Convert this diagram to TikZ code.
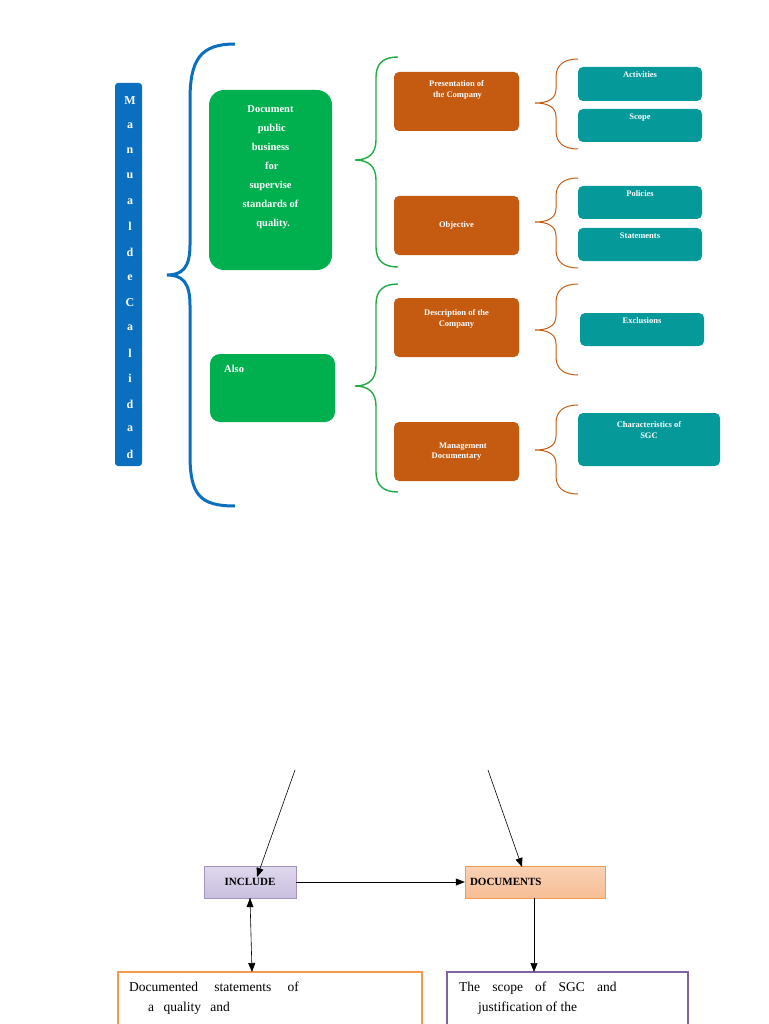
\documentclass[tikz,border=0pt]{standalone}
\usepackage{fontspec}
\setmainfont{Liberation Serif}
\usetikzlibrary{arrows.meta}
\definecolor{bl}{HTML}{0B6FC0}
\definecolor{gr}{HTML}{00B04F}
\definecolor{og}{HTML}{C55A11}
\definecolor{tl}{HTML}{05999A}
\definecolor{lgr}{HTML}{22AA44}
\definecolor{lav}{HTML}{C9BFE0}
\definecolor{pch}{HTML}{F6BE95}
\definecolor{ob}{HTML}{F39A4E}
\definecolor{pb}{HTML}{8064A2}
\tikzset{
 box/.style={rounded corners=5pt,text=white,font=\bfseries\fontsize{8.5}{10.5}\selectfont,align=center,inner sep=0pt},
 ar/.style={-{Triangle[length=9pt,width=7pt]},black,line width=0.6pt}
}
\begin{document}
\begin{tikzpicture}[x=1pt,y=-1pt]
\useasboundingbox (0,0) rectangle (768,1024);
\clip (0,0) rectangle (768,1024);
% blue vertical bar
\node[fill=bl,rounded corners=3pt,minimum width=27pt,minimum height=383pt,inner sep=0pt] (bar) at (128.5,274.5) {};
\foreach \l [count=\i] in {M,a,n,u,a,l,d,e,C,a,l,i,d,a,d}
  \node[text=white,font=\bfseries\fontsize{12}{12}\selectfont,inner sep=0pt] (l\i) at (130,75+\i*25.3) {\l};
% braces
\draw[bl,line width=3pt] (235,44) .. controls (200,44) and (190,60) .. (190,100) -- (190,245) .. controls (190,268) and (182,275) .. (167,275) .. controls (182,275) and (190,282) .. (190,305) -- (190,455) .. controls (190,495) and (200,506) .. (235,506);
\foreach \t/\m/\b in {57/160/267,284/386/492}
 \draw[lgr,line width=1.4pt] (398,\t) .. controls (384,\t) and (376,\t+6) .. (376,\t+20) -- (376,\m-20) .. controls (376,\m-6) and (368,\m) .. (355,\m) .. controls (368,\m) and (376,\m+6) .. (376,\m+20) -- (376,\b-20) .. controls (376,\b-6) and (384,\b) .. (398,\b);
\foreach \t/\m/\b in {59/103/149,178/222/268,284/330/375,405/450/494}
 \draw[og,line width=1pt] (578,\t) .. controls (564,\t) and (556,\t+6) .. (556,\t+18) -- (556,\m-14) .. controls (556,\m-4) and (548,\m) .. (535,\m) .. controls (548,\m) and (556,\m+4) .. (556,\m+14) -- (556,\b-18) .. controls (556,\b-6) and (564,\b) .. (578,\b);
% green boxes
\node[box,fill=gr,rounded corners=15pt,minimum width=123pt,minimum height=180pt,font=\bfseries\fontsize{10.5}{19}\selectfont] (g1) at (270.5,180) {\raisebox{0pt}{}Document\\ \ public\\ business\hspace{1.2em}\\ \ for\\ supervise\\ standards of\\ \ \ quality.\\[8pt]};
\node[box,fill=gr,rounded corners=10pt,minimum width=125pt,minimum height=68pt] (g2) at (272.5,388) {};
\node[text=white,font=\bfseries\fontsize{10.5}{12}\selectfont,anchor=west,inner sep=0pt] (also) at (224,369) {Also};
% orange boxes
\node[box,fill=og,minimum width=125pt,minimum height=59pt] (o1) at (456.5,101.5) {Presentation of\hspace{1.5em}\\ \ the Company\\[14pt]};
\node[box,fill=og,minimum width=125pt,minimum height=59pt] (o2) at (456.5,225.5) {Objective};
\node[box,fill=og,minimum width=125pt,minimum height=59pt] (o3) at (456.5,327.5) {Description of the\\Company\\[8pt]};
\node[box,fill=og,minimum width=125pt,minimum height=59pt] (o4) at (456.5,451.5) {\hspace{1.5em}Management\\Documentary};
% teal boxes
\node[box,fill=tl,minimum width=124pt,minimum height=34pt] (t1) at (640,84) {Activities\\[8pt]};
\node[box,fill=tl,minimum width=124pt,minimum height=33pt] (t2) at (640,125.5) {Scope\\[8pt]};
\node[box,fill=tl,minimum width=124pt,minimum height=33pt] (t3) at (640,202.5) {Policies\\[8pt]};
\node[box,fill=tl,minimum width=124pt,minimum height=33pt] (t4) at (640,244.5) {Statements\hspace{1em}\\[8pt]};
\node[box,fill=tl,minimum width=124pt,minimum height=33pt] (t5) at (642,329.5) {Exclusions\\[8pt]};
\node[box,fill=tl,minimum width=142pt,minimum height=53pt] (t6) at (649,439.5) {Characteristics of\\SGC\\[8pt]};
% bottom part
\node[draw=pb!70,fill=lav,top color=lav!60,bottom color=lav,minimum width=92pt,minimum height=32pt,inner sep=0pt,font=\bfseries\fontsize{11}{12}\selectfont] (inc) at (250,882) {INCLUDE};
\node[draw=ob,top color=pch!70,bottom color=pch,minimum width=140pt,minimum height=32pt,inner sep=0pt,font=\bfseries\fontsize{11}{12}\selectfont,text width=130pt,align=left] (doc) at (535,882) {DOCUMENTS};
\coordinate (s1) at (295,770);
\coordinate (s2) at (488,770);
\draw[ar] (s1) -- (257,877);
\draw[ar] (s2) -- (522,867);
\draw[ar] (inc) -- (doc);
\draw[draw=ob,line width=2pt] (118,1030) -- (118,972) -- (422,972) -- (422,1030);
\draw[draw=pb,line width=2pt] (447,1030) -- (447,972) -- (688,972) -- (688,1030);
\coordinate (b1) at (252,972);
\coordinate (b2) at (534,972);
\draw[ar] (inc.south) ++(0,0) coordinate (is) ; \draw[ar] (250,898) -- (b1);
\draw[ar] (534,898) -- (b2);
\node[font=\fontsize{13.5}{20}\selectfont,anchor=north west,inner sep=0pt,align=left] (txt1) at (129,982) {Documented\hspace{1.2em}statements\hspace{1.2em}of\\\hspace{1.4em}a\hspace{0.7em}quality\hspace{0.7em}and};
\node[font=\fontsize{13.5}{20}\selectfont,anchor=north west,inner sep=0pt,align=left] (txt2) at (459,982) {The\hspace{0.9em}scope\hspace{0.9em}of\hspace{0.9em}SGC\hspace{0.9em}and\\\hspace{1.4em}justification of the};
\end{tikzpicture}
\end{document}
